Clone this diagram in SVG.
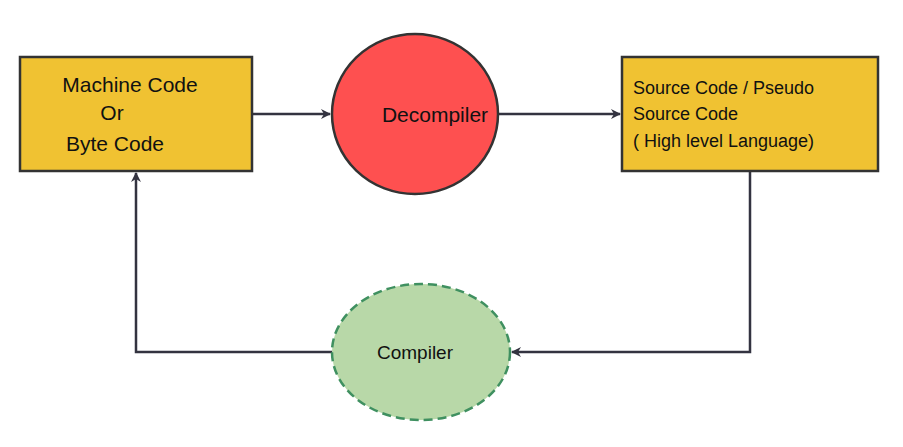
<svg xmlns="http://www.w3.org/2000/svg" width="903" height="447" viewBox="0 0 903 447">
<style>
text{font-family:"Liberation Sans",Arial,sans-serif;fill:#111}
.box{fill:#f0c232;stroke:#333;stroke-width:2.5}
.c{fill:none;stroke:#333340;stroke-width:2.5}
</style>
<defs><marker id="a" markerWidth="10" markerHeight="10" refX="9" refY="5" orient="auto" markerUnits="userSpaceOnUse"><path d="M0,0 L10,5 L0,10 L3,5 Z" fill="#333340"/></marker></defs>
<rect width="903" height="447" fill="#fff"/>
<g id="connectors">
<path class="c" d="M252,114 H330" marker-end="url(#a)"/>
<path class="c" d="M497,114 H620" marker-end="url(#a)"/>
<path class="c" d="M750,171 V352 H512" marker-end="url(#a)"/>
<path class="c" d="M332,352 H136 V173" marker-end="url(#a)"/>
</g>
<g id="machine"><rect class="box" x="20" y="57" width="232" height="114"/>
<text x="130" y="92" font-size="21" text-anchor="middle">Machine Code</text>
<text x="112" y="120" font-size="21" text-anchor="middle">Or</text>
<text x="115" y="151" font-size="21" text-anchor="middle">Byte Code</text></g>
<g id="decompiler"><ellipse cx="415" cy="114" rx="83" ry="80" fill="#fe5050" stroke="#333" stroke-width="2.5"/>
<text x="435" y="122" font-size="21" text-anchor="middle">Decompiler</text></g>
<g id="source"><rect class="box" x="622" y="57" width="256" height="114"/>
<text x="633" y="94" font-size="18">Source Code / Pseudo</text>
<text x="633" y="120" font-size="18">Source Code</text>
<text x="633" y="147" font-size="18">( High level Language)</text></g>
<g id="compiler"><ellipse cx="421" cy="352" rx="89" ry="68" fill="#b8d8a8" stroke="#3f9060" stroke-width="2.5" stroke-dasharray="9,5"/>
<text x="415" y="359" font-size="19" text-anchor="middle">Compiler</text></g>
</svg>
